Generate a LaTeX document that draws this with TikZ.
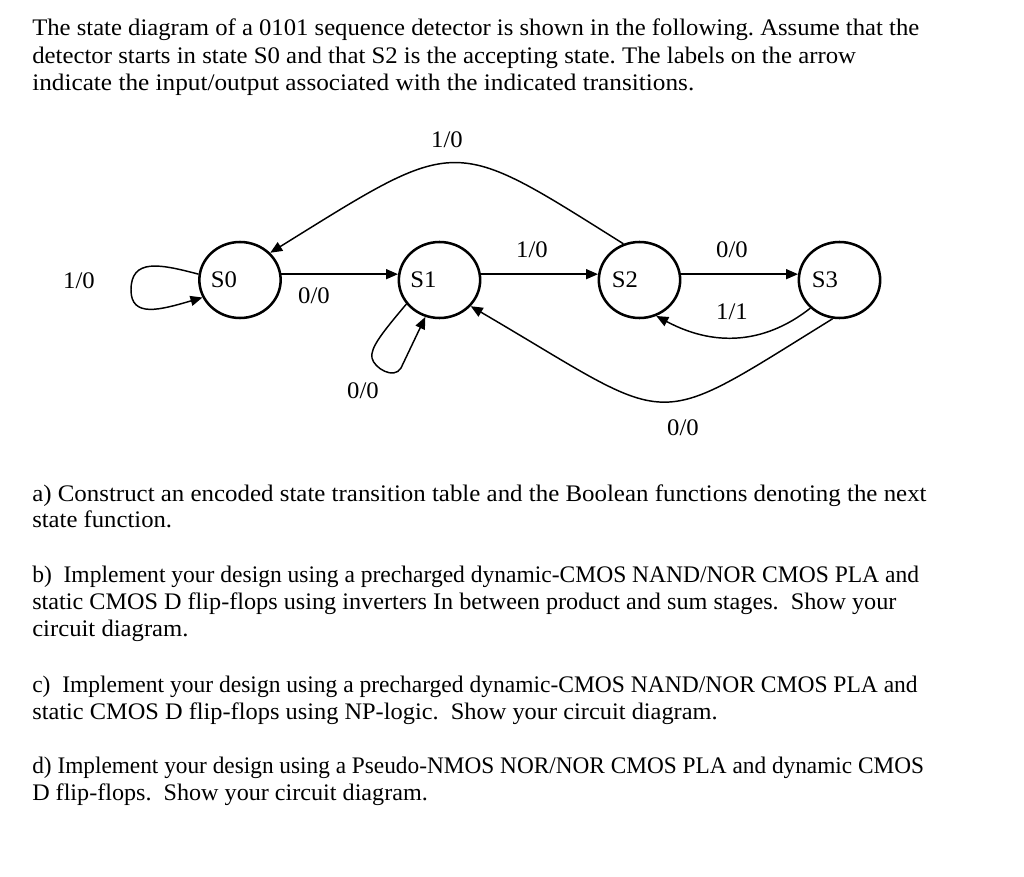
\documentclass[tikz,border=0pt]{standalone}
\usepackage{graphicx}
\usepackage{fontspec}
\setmainfont{Liberation Serif}[FakeStretch=1.04]
\usetikzlibrary{arrows.meta,shapes.geometric}
\frenchspacing
\newcommand{\hsc}[2]{\scalebox{#1}[1]{#2}}
\begin{document}
\begin{tikzpicture}[x=0.75pt,y=-0.75pt,
  txt/.style={anchor=base west,inner sep=0pt,font=\fontsize{17.8}{20}\selectfont},
  lbl/.style={anchor=base,inner sep=0pt,font=\fontsize{17.8}{20}\selectfont},
  state/.style={draw,ellipse,line width=1.9pt,minimum width=61pt,minimum height=57pt,inner sep=0pt},
  arr/.style={line width=1.1pt,-{Triangle[length=9pt,width=7.5pt]}},
  ]
\useasboundingbox (0,0) rectangle (1024,877);
\fill[white] (0,0) rectangle (1024,877);
% top text
\node[txt] (t1) at (32,36) {The state diagram of a 0101 sequence detector is shown in the following. Assume that the};
\node[txt] (t2) at (32,63.5) {\hsc{1.004}{detector starts in state S0 and that S2 is the accepting state. The labels on the arrow}};
\node[txt] (t3) at (32,91) {\hsc{1.023}{indicate the input/output associated with the indicated transitions.}};
% states
\node[state,label={[lbl,anchor=center,xshift=-12pt]center:S0}] (s0) at (240,280) {};
\node[state,label={[lbl,anchor=center,xshift=-12pt]center:S1}] (s1) at (439.5,280) {};
\node[state,label={[lbl,anchor=center,xshift=-11pt]center:S2}] (s2) at (639.5,280) {};
\node[state,label={[lbl,anchor=center,xshift=-11pt]center:S3}] (s3) at (839.5,280) {};
% transitions
\draw[arr] (s0.8) -- (s1.172);
\draw[arr] (s1.8) -- (s2.172);
\draw[arr] (s2.8) -- (s3.172);
\draw[arr] (s2.114) .. controls (450,135) and (460,135) .. (s0.42);
\draw[arr] (s0.172) .. controls (160,264) and (131,258) .. (131,290) .. controls (131,318) and (160,310) .. (s0.205);
\draw[arr] (s1.216) .. controls (382,333) and (370,348) .. (372,358) .. controls (374,368) and (394,380) .. (401,368) -- (s1.249);
\draw[arr] (s3.224) .. controls (770,340) and (720,350) .. (s2.295);
\draw[arr] (s3.260) .. controls (646,434) and (679,428) .. (s1.320);
% labels
\node[lbl] (l1) at (447,148) {1/0};
\node[lbl] (l2) at (79,288.5) {1/0};
\node[lbl] (l3) at (314,303.5) {0/0};
\node[lbl] (l4) at (363,398.5) {0/0};
\node[lbl] (l5) at (532,257.5) {1/0};
\node[lbl] (l6) at (732,257.5) {0/0};
\node[lbl] (l7) at (732,319.5) {1/1};
\node[lbl] (l8) at (683,435.5) {0/0};
% questions
\node[txt] (a1) at (32,501) {\hsc{1.009}{a) Construct an encoded state transition table and the Boolean functions denoting the next}};
\node[txt] (a2) at (32,527.5) {state function.};
\node[txt] (b1) at (32,582) {\hsc{0.953}{b)\ \ Implement your design using a precharged dynamic-CMOS NAND/NOR CMOS PLA and}};
\node[txt] (b2) at (32,609) {\hsc{0.981}{static CMOS D flip-flops using inverters In between product and sum stages.\ \ Show your}};
\node[txt] (b3) at (32,636) {circuit diagram.};
\node[txt] (c1) at (32,692) {\hsc{0.953}{c)\ \ Implement your design using a precharged dynamic-CMOS NAND/NOR CMOS PLA and}};
\node[txt] (c2) at (32,719) {\hsc{0.988}{static CMOS D flip-flops using NP-logic.\ \ Show your circuit diagram.}};
\node[txt] (d1) at (32,773) {\hsc{0.944}{d) Implement your design using a Pseudo-NMOS NOR/NOR CMOS PLA and dynamic CMOS}};
\node[txt] (d2) at (32,800) {\hsc{0.978}{D flip-flops.\ \ Show your circuit diagram.}};
\end{tikzpicture}
\end{document}
